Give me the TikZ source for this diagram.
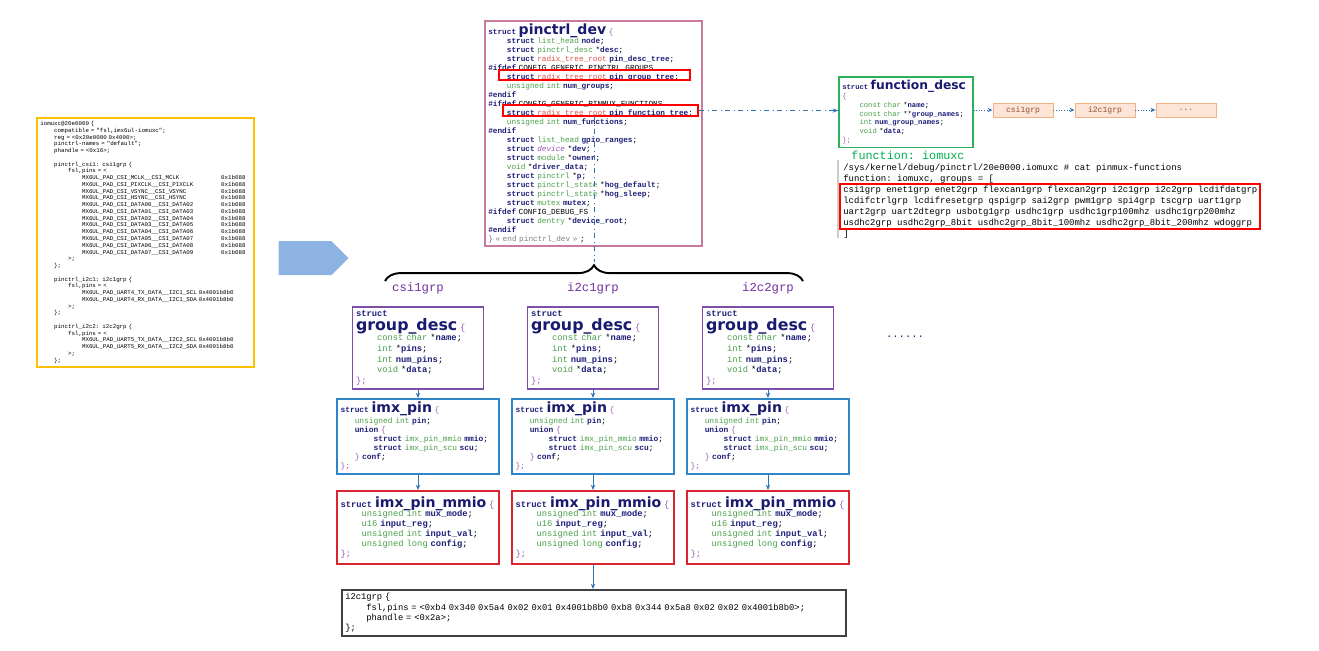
\documentclass[tikz,border=0pt]{standalone}
\usepackage{fontspec}
\setmonofont{Liberation Mono}
\setsansfont{DejaVu Sans}
\usepackage{xcolor}
\usetikzlibrary{arrows.meta,shapes.arrows,decorations.pathreplacing}

\definecolor{kwc}{HTML}{1F1F7A}
\definecolor{tyc}{HTML}{4AA04A}
\definecolor{rtc}{HTML}{E0504A}
\definecolor{pbc}{HTML}{9B59B6}
\definecolor{snc}{HTML}{1A1A6E}
\definecolor{linkc}{HTML}{2E75B6}
\definecolor{srcc}{HTML}{FFC000}
\definecolor{arrc}{HTML}{8DB3E2}
\definecolor{devc}{HTML}{C9799B}
\definecolor{funcc}{HTML}{2EAF5A}
\definecolor{namec}{HTML}{00B050}
\definecolor{grpd}{HTML}{F4B183}
\definecolor{grpf}{HTML}{FCE4D6}
\definecolor{grpt}{HTML}{96503C}
\definecolor{labc}{HTML}{7030A0}
\definecolor{gdc}{HTML}{7E4FA8}
\definecolor{pinc}{HTML}{2E86C8}
\definecolor{mmioc}{HTML}{D9262E}
\definecolor{outc}{HTML}{404040}

\newcommand\kw[1]{\textbf{\textcolor{kwc}{#1}}}
\newcommand\ty[1]{\textcolor{tyc}{#1}}
\newcommand\rty[1]{\textcolor{rtc}{#1}}
\newcommand\fd[1]{\textbf{\textcolor{kwc}{#1}}}
\newcommand\pb[1]{\textcolor{pbc}{#1}}
\newcommand\sn[2][8]{{\sffamily\bfseries\fontsize{#1}{#1}\selectfont\textcolor{snc}{#2}}}
\newcommand\ind[1]{\hspace*{#1em}}

\tikzset{
  code/.style={draw=#1, line width=0.9pt, inner sep=2pt, align=left, fill=white},
  hl/.style={draw=red, line width=0.9pt, inner sep=0pt},
  grp/.style={draw=grpd, fill=grpf, minimum width=1.2cm, minimum height=0.28cm, inner sep=0pt,
    font=\ttfamily\fontsize{4.6}{5}\selectfont, text=grpt},
  link/.style={draw=linkc, -{Stealth[length=3pt,width=2.5pt]}, line width=0.5pt}
}

\begin{document}
\begin{tikzpicture}[x=0.02cm,y=-0.02cm]
\useasboundingbox (0,0) rectangle (1319,650);

% device tree source
\node[code=srcc, anchor=north west, text width=4.2cm, minimum height=4.98cm,
  font=\ttfamily\fontsize{3.3}{3.85}\selectfont] (src) at (36,117) {%
iomuxc@20e0000 \{\\
\ind{2.4}compatible = "fsl,imx6ul-iomuxc";\\
\ind{2.4}reg = <0x20e0000 0x4000>;\\
\ind{2.4}pinctrl-names = "default";\\
\ind{2.4}phandle = <0x16>;\\
\mbox{}\\
\ind{2.4}pinctrl\_csi1: csi1grp \{\\
\ind{4.8}fsl,pins = <\\
\ind{7.2}\makebox[24em][l]{MX6UL\_PAD\_CSI\_MCLK\_\_CSI\_MCLK}0x1b088\\
\ind{7.2}\makebox[24em][l]{MX6UL\_PAD\_CSI\_PIXCLK\_\_CSI\_PIXCLK}0x1b088\\
\ind{7.2}\makebox[24em][l]{MX6UL\_PAD\_CSI\_VSYNC\_\_CSI\_VSYNC}0x1b088\\
\ind{7.2}\makebox[24em][l]{MX6UL\_PAD\_CSI\_HSYNC\_\_CSI\_HSYNC}0x1b088\\
\ind{7.2}\makebox[24em][l]{MX6UL\_PAD\_CSI\_DATA00\_\_CSI\_DATA02}0x1b088\\
\ind{7.2}\makebox[24em][l]{MX6UL\_PAD\_CSI\_DATA01\_\_CSI\_DATA03}0x1b088\\
\ind{7.2}\makebox[24em][l]{MX6UL\_PAD\_CSI\_DATA02\_\_CSI\_DATA04}0x1b088\\
\ind{7.2}\makebox[24em][l]{MX6UL\_PAD\_CSI\_DATA03\_\_CSI\_DATA05}0x1b088\\
\ind{7.2}\makebox[24em][l]{MX6UL\_PAD\_CSI\_DATA04\_\_CSI\_DATA06}0x1b088\\
\ind{7.2}\makebox[24em][l]{MX6UL\_PAD\_CSI\_DATA05\_\_CSI\_DATA07}0x1b088\\
\ind{7.2}\makebox[24em][l]{MX6UL\_PAD\_CSI\_DATA06\_\_CSI\_DATA08}0x1b088\\
\ind{7.2}\makebox[24em][l]{MX6UL\_PAD\_CSI\_DATA07\_\_CSI\_DATA09}0x1b088\\
\ind{4.8}>;\\
\ind{2.4}\};\\
\mbox{}\\
\ind{2.4}pinctrl\_i2c1: i2c1grp \{\\
\ind{4.8}fsl,pins = <\\
\ind{7.2}MX6UL\_PAD\_UART4\_TX\_DATA\_\_I2C1\_SCL 0x4001b8b0\\
\ind{7.2}MX6UL\_PAD\_UART4\_RX\_DATA\_\_I2C1\_SDA 0x4001b8b0\\
\ind{4.8}>;\\
\ind{2.4}\};\\
\mbox{}\\
\ind{2.4}pinctrl\_i2c2: i2c2grp \{\\
\ind{4.8}fsl,pins = <\\
\ind{7.2}MX6UL\_PAD\_UART5\_TX\_DATA\_\_I2C2\_SCL 0x4001b8b0\\
\ind{7.2}MX6UL\_PAD\_UART5\_RX\_DATA\_\_I2C2\_SDA 0x4001b8b0\\
\ind{4.8}>;\\
\ind{2.4}\};};

\node[single arrow, fill=arrc, minimum height=1.4cm, minimum width=0.68cm,
  single arrow head extend=0cm, inner sep=0pt] (bigarrow) at (305,258) {};

% pinctrl_dev
\node[code=devc, anchor=north west, text width=4.2cm, minimum height=4.48cm,
  font=\ttfamily\fontsize{4.4}{5.1}\selectfont] (dev) at (484,20) {%
\kw{struct} \sn{pinctrl\_dev} \pb{\{}\\
\ind{2.4}\kw{struct} \ty{list\_head} \fd{node};\\
\ind{2.4}\kw{struct} \ty{pinctrl\_desc} *\fd{desc};\\
\ind{2.4}\kw{struct} \rty{radix\_tree\_root} \fd{pin\_desc\_tree};\\
\kw{\#ifdef} CONFIG\_GENERIC\_PINCTRL\_GROUPS\\
\ind{2.4}\kw{struct} \rty{radix\_tree\_root} \fd{pin\_group\_tree};\\
\ind{2.4}\ty{unsigned int} \fd{num\_groups};\\
\kw{\#endif}\\
\kw{\#ifdef} CONFIG\_GENERIC\_PINMUX\_FUNCTIONS\\
\ind{2.4}\kw{struct} \rty{radix\_tree\_root} \fd{pin\_function\_tree};\\
\ind{2.4}\ty{unsigned int} \fd{num\_functions};\\
\kw{\#endif}\\
\ind{2.4}\kw{struct} \ty{list\_head} \fd{gpio\_ranges};\\
\ind{2.4}\kw{struct} \textit{\pb{device}} *\fd{dev};\\
\ind{2.4}\kw{struct} \ty{module} *\fd{owner};\\
\ind{2.4}\ty{void} *\fd{driver\_data};\\
\ind{2.4}\kw{struct} \ty{pinctrl} *\fd{p};\\
\ind{2.4}\kw{struct} \ty{pinctrl\_state} *\fd{hog\_default};\\
\ind{2.4}\kw{struct} \ty{pinctrl\_state} *\fd{hog\_sleep};\\
\ind{2.4}\kw{struct} \ty{mutex} \fd{mutex};\\
\kw{\#ifdef} CONFIG\_DEBUG\_FS\\
\ind{2.4}\kw{struct} \ty{dentry} *\fd{device\_root};\\
\kw{\#endif}\\
\pb{\}} \textcolor{gray}{« end pinctrl\_dev »} ;};
\node[hl, minimum width=3.82cm, minimum height=0.2cm] (hgroup) at (594.5,75) {};
\node[hl, minimum width=3.9cm, minimum height=0.22cm] (hfunc) at (600.5,110.5) {};

% function_desc and its groups
\node[code=funcc, anchor=north west, text width=2.54cm, minimum height=1.4cm,
  font=\ttfamily\fontsize{4.1}{5}\selectfont] (func) at (838,76) {%
\kw{struct} \sn[7]{function\_desc} \pb{\{}\\
\ind{2.4}\ty{const char} *\fd{name};\\
\ind{2.4}\ty{const char} **\fd{group\_names};\\
\ind{2.4}\ty{int} \fd{num\_group\_names};\\
\ind{2.4}\ty{void} *\fd{data};\\
\pb{\};}};
\node[font=\ttfamily\fontsize{6.7}{7}\selectfont, text=namec] (funcname) at (908,155) {function: iomuxc};
\node[grp] (g1) at (1023,110) {csi1grp};
\node[grp] (g2) at (1105,110) {i2c1grp};
\node[grp] (g3) at (1186,110) {...};

% pinmux-functions
\node[anchor=north west, inner sep=0pt, align=left, font=\ttfamily\fontsize{5.1}{6.24}\selectfont] (term) at (843,164) {%
/sys/kernel/debug/pinctrl/20e0000.iomuxc \# cat pinmux-functions\\
function: iomuxc, groups = [\\
csi1grp enet1grp enet2grp flexcan1grp flexcan2grp i2c1grp i2c2grp lcdifdatgrp\\
lcdifctrlgrp lcdifresetgrp qspigrp sai2grp pwm1grp spi4grp tscgrp uart1grp\\
uart2grp uart2dtegrp usbotg1grp usdhc1grp usdhc1grp100mhz usdhc1grp200mhz\\
usdhc2grp usdhc2grp\_8bit usdhc2grp\_8bit\_100mhz usdhc2grp\_8bit\_200mhz wdoggrp\\
]};
\node[hl, minimum width=8.4cm, minimum height=0.9cm] (hgroups) at (1050,206.5) {};
\coordinate (bartop) at (838,160);
\coordinate (barbot) at (838,238);
\draw[gray!40, line width=0.6pt] (bartop) -- (barbot);

% links from pinctrl_dev
\coordinate (vtop) at (594,116);
\coordinate (tip) at (594,262);
\coordinate (bl) at (385,281);
\coordinate (br) at (803,281);
\draw[linkc, dash dot, line width=0.5pt] (hfunc.east) -- (hfunc.east -| func.west);
\draw[link] ([xshift=-3pt]hfunc.east -| func.west) -- (hfunc.east -| func.west);
\draw[linkc, dash dot, line width=0.5pt] (vtop) -- (tip);
\draw[decorate, decoration={brace, amplitude=9pt}, line width=1.1pt] (bl) -- (br);
\draw[link, densely dotted] (func.east |- g1.west) -- (g1.west);
\draw[link, densely dotted] (g1.east) -- (g2.west);
\draw[link, densely dotted] (g2.east) -- (g3.west);

% groups
\foreach \i/\cx/\g in {1/418/csi1grp, 2/593/i2c1grp, 3/768/i2c2grp} {
  \node[font=\ttfamily\fontsize{7}{7}\selectfont, text=labc] (lab\i) at (\cx,288) {\g};
  \node[code=gdc, anchor=north, text width=2.48cm, minimum height=1.44cm,
    font=\ttfamily\fontsize{5}{6.1}\selectfont] (gd\i) at (\cx,306) {%
\kw{struct} \sn[9]{group\_desc} \pb{\{}\\
\ind{2.4}\ty{const char} *\fd{name};\\
\ind{2.4}\ty{int} *\fd{pins};\\
\ind{2.4}\ty{int} \fd{num\_pins};\\
\ind{2.4}\ty{void} *\fd{data};\\
\pb{\};}};
  \node[code=pinc, anchor=north, text width=3.1cm, minimum height=1.46cm,
    font=\ttfamily\fontsize{4.5}{5.1}\selectfont] (pin\i) at (\cx,398) {%
\kw{struct} \sn{imx\_pin} \pb{\{}\\
\ind{1.8}\ty{unsigned int} \fd{pin};\\
\ind{1.8}\kw{union} \pb{\{}\\
\ind{4.2}\kw{struct} \ty{imx\_pin\_mmio} \fd{mmio};\\
\ind{4.2}\kw{struct} \ty{imx\_pin\_scu} \fd{scu};\\
\ind{1.8}\pb{\}} \fd{conf};\\
\pb{\};}};
  \node[code=mmioc, anchor=north, text width=3.1cm, minimum height=1.46cm,
    font=\ttfamily\fontsize{5}{5.6}\selectfont] (mmio\i) at (\cx,490) {%
\kw{struct} \sn{imx\_pin\_mmio} \pb{\{}\\
\ind{2.4}\ty{unsigned int} \fd{mux\_mode};\\
\ind{2.4}\ty{u16} \fd{input\_reg};\\
\ind{2.4}\ty{unsigned int} \fd{input\_val};\\
\ind{2.4}\ty{unsigned long} \fd{config};\\
\pb{\};}};
  \draw[link] (gd\i) -- (pin\i);
  \draw[link] (pin\i) -- (mmio\i);
}
\node[font=\ttfamily\fontsize{6}{6}\selectfont, text=kwc] (more) at (905,337) {......};

% resulting node
\node[code=outc, anchor=north west, text width=9.94cm, minimum height=0.9cm,
  font=\ttfamily\fontsize{5}{5.9}\selectfont] (out) at (341,589) {%
i2c1grp \{\\
\ind{2.4}fsl,pins = <0xb4 0x340 0x5a4 0x02 0x01 0x4001b8b0 0xb8 0x344 0x5a8 0x02 0x02 0x4001b8b0>;\\
\ind{2.4}phandle = <0x2a>;\\
\};};
\draw[link] (mmio2) -- (out.north -| mmio2);
\end{tikzpicture}
\end{document}
